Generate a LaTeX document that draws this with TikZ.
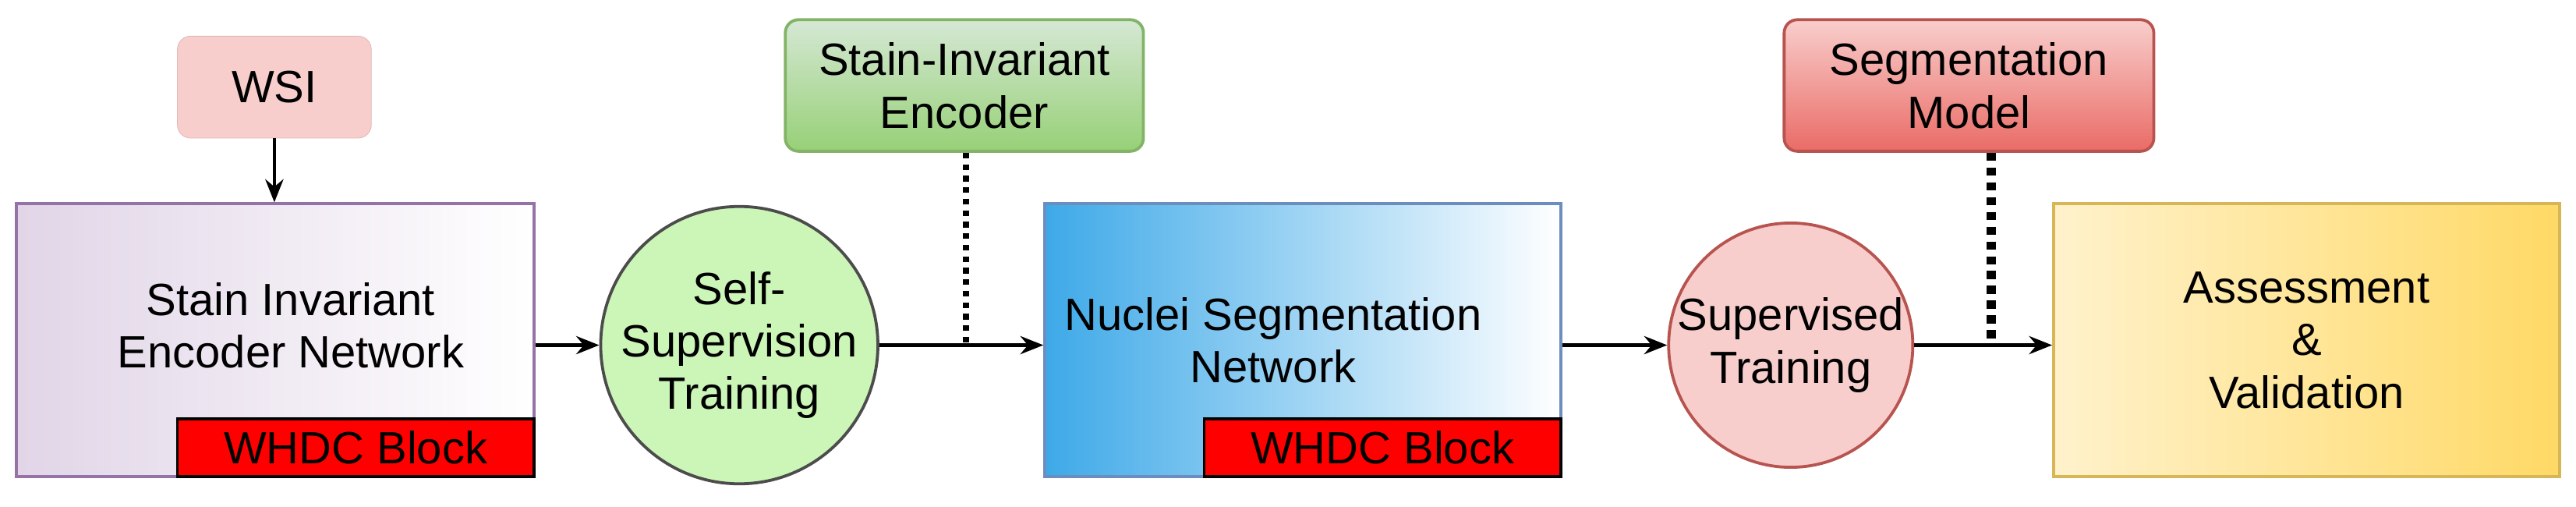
\documentclass[tikz,border=0pt]{standalone}
\usepackage{fontspec}
\setmainfont{Liberation Sans}
\usetikzlibrary{arrows.meta}
\definecolor{purp}{HTML}{E1D5E7}\definecolor{purpd}{HTML}{9673A6}
\definecolor{pinkf}{HTML}{F8CECC}\definecolor{redd}{HTML}{B85450}\definecolor{redg}{HTML}{EA6B66}
\definecolor{grf}{HTML}{CCF5B8}\definecolor{grd}{HTML}{82B366}\definecolor{grg}{HTML}{97D077}\definecolor{grl}{HTML}{D5E8D4}
\definecolor{blg}{HTML}{3EA9E8}\definecolor{bld}{HTML}{6C8EBF}
\definecolor{yl}{HTML}{FFF2CC}\definecolor{yd}{HTML}{FFD966}\definecolor{ydd}{HTML}{D6B656}
\begin{document}
\begin{tikzpicture}[x=1pt,y=-1pt,
  txt/.style={font=\fontsize{27.5}{32}\selectfont,align=center,text=black},
  arr/.style={-{Stealth[length=14pt,width=11pt]},line width=2.2pt},
  whdc/.style={draw=black,line width=1.8pt,fill=red,txt,minimum width=217pt,minimum height=35pt,inner sep=0pt}]
\useasboundingbox (0,0) rectangle (1568,308);
\node[txt,draw=pinkf!90!black,fill=pinkf,rounded corners=8pt,minimum width=118pt,minimum height=62pt] (wsi) at (167,53) {WSI};
\node[txt,draw=purpd,line width=1.8pt,left color=purp,right color=white,minimum width=315pt,minimum height=166pt] (b1) at (167.5,207) {};
\node[txt] (t1) at (177,198) {Stain Invariant\\Encoder Network};
\node[whdc,anchor=south east] (w1) at (b1.south east) {WHDC Block};
\node[txt,circle,draw=black!70,line width=1.8pt,fill=grf,minimum size=140pt,inner sep=0pt] (c1) at (450,210) {Self-\\Supervision\\Training};
\node[txt,draw=grd,line width=1.8pt,rounded corners=8pt,top color=grl,bottom color=grg,minimum width=218pt,minimum height=80pt] (sie) at (587,52) {Stain-Invariant\\Encoder};
\node[draw=bld,line width=1.8pt,left color=blg,right color=white,minimum width=314pt,minimum height=166pt] (b2) at (793,207) {};
\node[txt] (t2) at (775,207) {Nuclei Segmentation\\Network};
\node[whdc,anchor=south east] (w2) at (b2.south east) {WHDC Block};
\node[txt,circle,draw=redd,line width=1.8pt,fill=pinkf,minimum size=146pt,inner sep=0pt] (c2) at (1090,210) {Supervised\\Training};
\node[txt,draw=redd,line width=1.8pt,rounded corners=8pt,top color=pinkf,bottom color=redg,minimum width=225pt,minimum height=80pt] (sm) at (1198.5,52) {Segmentation\\Model};
\node[draw=ydd,line width=1.8pt,left color=yl,right color=yd,minimum width=308pt,minimum height=166pt] (b3) at (1404,207) {};
\node[txt] (t3) at (1404,207) {Assessment\\\&\\Validation};
\coordinate (d1) at (588,210); \coordinate (d2) at (1212,210);
\draw[arr] (wsi.south) -- (wsi.south |- b1.north);
\draw[arr] (b1.east |- c1) -- (c1.west);
\draw[arr] (c1.east) -- (b2.west |- c1);
\draw[arr] (b2.east |- c2) -- (c2.west);
\draw[arr] (c2.east) -- (b3.west |- c2);
\draw[line width=3.5pt,dash pattern=on 3.5pt off 3.5pt] (sie.south -| d1) -- (d1);
\draw[line width=6pt,dash pattern=on 5pt off 4pt] (sm.south -| d2) -- (d2);
\end{tikzpicture}
\end{document}
